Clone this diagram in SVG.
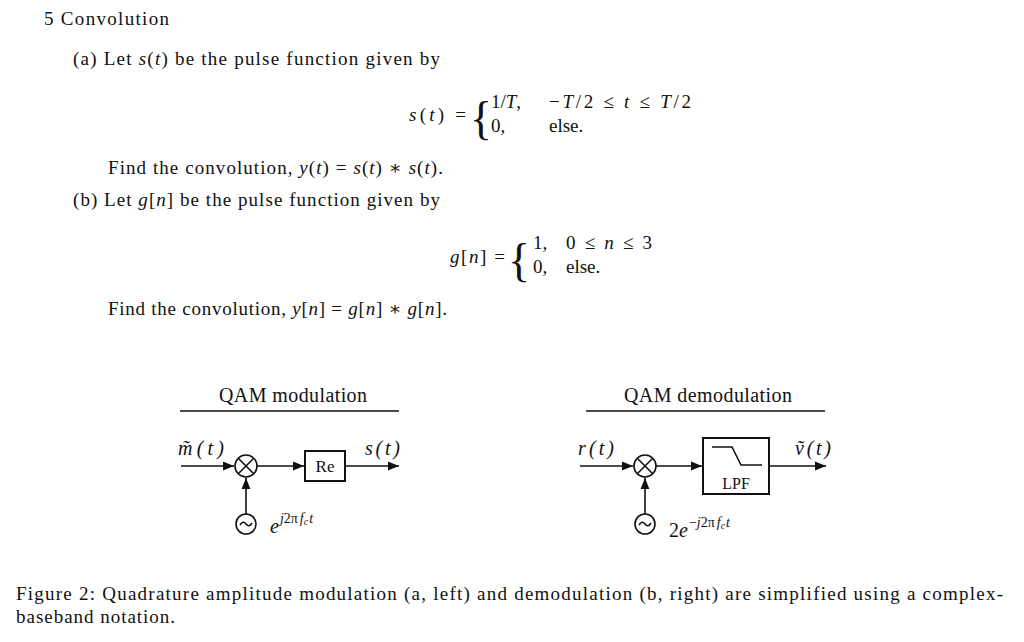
<svg xmlns="http://www.w3.org/2000/svg" width="1024" height="642" viewBox="0 0 1024 642">
<style>
text{font-family:"Liberation Serif","DejaVu Serif",serif;font-size:19px;fill:#111}
.i{font-style:italic}
.s{font-size:14px}
.t{font-size:20px}
.br{font-size:46px;font-weight:100}
.ln{stroke:#111;stroke-width:1.6;fill:none}
.bx{stroke:#111;stroke-width:2;fill:#fff}
</style>
<defs><marker id="a" viewBox="0 0 10 10" refX="10" refY="5" markerWidth="7" markerHeight="7" orient="auto"><path d="M0,1 L10,5 L0,9 z" fill="#111"/></marker></defs>
<rect width="1024" height="642" fill="#fff"/>
<text x="44" y="25" textLength="125" lengthAdjust="spacing">5  Convolution</text>
<text x="73" y="65" textLength="367" lengthAdjust="spacing">(a)  Let <tspan class="i">s</tspan>(<tspan class="i">t</tspan>) be the pulse function given by</text>
<text x="409" y="121" textLength="57" lengthAdjust="spacing"><tspan class="i">s</tspan>(<tspan class="i">t</tspan>) =</text>
<text x="470" y="134" class="br">{</text>
<text x="491" y="108">1/<tspan class="i">T</tspan>,</text>
<text x="549" y="108" textLength="142" lengthAdjust="spacing">−<tspan class="i">T</tspan>/2 ≤ <tspan class="i">t</tspan> ≤ <tspan class="i">T</tspan>/2</text>
<text x="491" y="132">0,</text>
<text x="549" y="132">else.</text>
<text x="108" y="174" textLength="335" lengthAdjust="spacing">Find the convolution, <tspan class="i">y</tspan>(<tspan class="i">t</tspan>) = <tspan class="i">s</tspan>(<tspan class="i">t</tspan>) ∗ <tspan class="i">s</tspan>(<tspan class="i">t</tspan>).</text>
<text x="73" y="206" textLength="367" lengthAdjust="spacing">(b)  Let <tspan class="i">g</tspan>[<tspan class="i">n</tspan>] be the pulse function given by</text>
<text x="450" y="263" textLength="55" lengthAdjust="spacing"><tspan class="i">g</tspan>[<tspan class="i">n</tspan>] =</text>
<text x="508" y="276" class="br">{</text>
<text x="533" y="249">1,</text>
<text x="566" y="249" textLength="86" lengthAdjust="spacing">0 ≤ <tspan class="i">n</tspan> ≤ 3</text>
<text x="533" y="273">0,</text>
<text x="566" y="273">else.</text>
<text x="108" y="315" textLength="339" lengthAdjust="spacing">Find the convolution, <tspan class="i">y</tspan>[<tspan class="i">n</tspan>] = <tspan class="i">g</tspan>[<tspan class="i">n</tspan>] ∗ <tspan class="i">g</tspan>[<tspan class="i">n</tspan>].</text>

<g id="titles">
<text x="293" y="402" text-anchor="middle" class="t" textLength="148" lengthAdjust="spacing">QAM modulation</text>
<line x1="180" y1="411" x2="399" y2="411" class="ln"/>
<text x="708" y="402" text-anchor="middle" class="t" textLength="168" lengthAdjust="spacing">QAM demodulation</text>
<line x1="586" y1="411" x2="825" y2="411" class="ln"/>
</g>
<g id="connectors">
<line x1="181" y1="466" x2="234" y2="466" class="ln" marker-end="url(#a)"/>
<line x1="257" y1="466" x2="304" y2="466" class="ln" marker-end="url(#a)"/>
<line x1="346" y1="466" x2="399" y2="466" class="ln" marker-end="url(#a)"/>
<line x1="246" y1="514" x2="246" y2="478" class="ln" marker-end="url(#a)"/>
<line x1="580" y1="466" x2="633" y2="466" class="ln" marker-end="url(#a)"/>
<line x1="656" y1="466" x2="702" y2="466" class="ln" marker-end="url(#a)"/>
<line x1="770" y1="466" x2="826" y2="466" class="ln" marker-end="url(#a)"/>
<line x1="645" y1="514" x2="645" y2="478" class="ln" marker-end="url(#a)"/>
</g>
<g id="mod-mult"><circle cx="246" cy="466" r="11" class="ln"/><path d="M238,458 L254,474 M254,458 L238,474" class="ln"/></g>
<g id="mod-re"><rect x="305" y="451" width="40" height="30" class="bx"/><text x="325" y="472" text-anchor="middle" style="font-size:17px">Re</text></g>
<g id="mod-osc"><circle cx="246" cy="524" r="10" class="ln"/><path d="M240,525 q3,-5 6,-1 q3,4 6,-1" class="ln"/></g>
<g id="mod-labels">
<text x="178" y="455" class="i t" textLength="46" lengthAdjust="spacing">m̃(t)</text>
<text x="365" y="455" class="i t" textLength="35" lengthAdjust="spacing">s(t)</text>
<text x="270" y="533" class="i t">e<tspan class="s" dy="-10" dx="1">j</tspan><tspan class="s" style="font-style:normal">2π</tspan><tspan class="s" dx="2">f</tspan><tspan style="font-size:10px" dy="2">c</tspan><tspan class="s" dy="-2" dx="1">t</tspan></text>
</g>
<g id="demod-mult"><circle cx="645" cy="466" r="11" class="ln"/><path d="M637,458 L653,474 M653,458 L637,474" class="ln"/></g>
<g id="demod-lpf"><rect x="703" y="438" width="66" height="56" class="bx"/><path d="M712,447 L732,447 L741,465 L762,465" class="ln"/><text x="736" y="489" text-anchor="middle" style="font-size:16px">LPF</text></g>
<g id="demod-osc"><circle cx="645" cy="524" r="10" class="ln"/><path d="M639,525 q3,-5 6,-1 q3,4 6,-1" class="ln"/></g>
<g id="demod-labels">
<text x="578" y="455" class="i t" textLength="36" lengthAdjust="spacing">r(t)</text>
<text x="795" y="455" class="i t" textLength="36" lengthAdjust="spacing">ṽ(t)</text>
<text x="669" y="537" class="t">2<tspan class="i">e</tspan><tspan class="s" dy="-10" dx="1">−</tspan><tspan class="s i">j</tspan><tspan class="s">2π</tspan><tspan class="s i" dx="2">f</tspan><tspan style="font-size:10px;font-style:italic" dy="2">c</tspan><tspan class="s i" dy="-2" dx="1">t</tspan></text>
</g>
<text x="16" y="600" textLength="987" lengthAdjust="spacing">Figure 2:  Quadrature amplitude modulation (a, left) and demodulation (b, right) are simplified using a complex-</text>
<text x="16" y="623" textLength="159" lengthAdjust="spacing">baseband notation.</text>
</svg>
